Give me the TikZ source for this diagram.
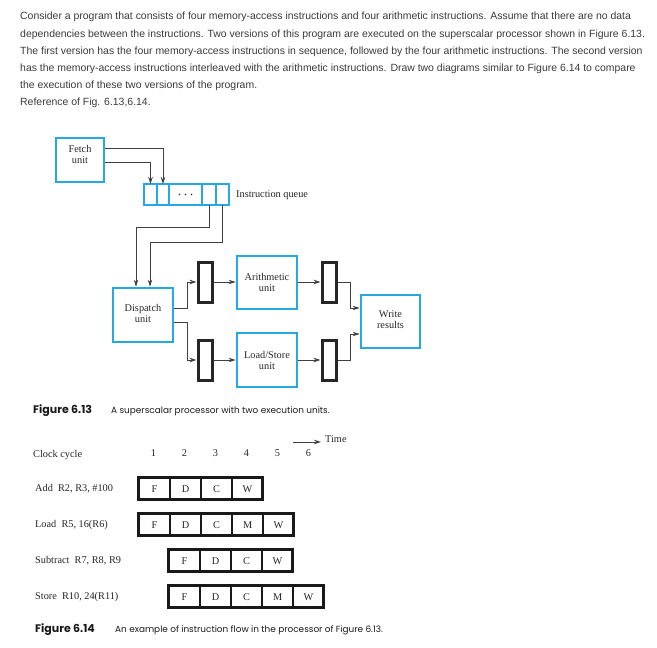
\documentclass[tikz,border=0pt]{standalone}
\usepackage{fontspec}
\setmainfont{Liberation Serif}
\newfontfamily\parafont{Liberation Sans}
\newfontfamily\capfont{Poppins}
\usetikzlibrary{arrows.meta}
\definecolor{parac}{HTML}{3A3A3A}
\definecolor{boxblue}{HTML}{25A9E0}
\definecolor{linec}{HTML}{404040}
\tikzset{
  para/.style={anchor=west,inner sep=0pt,font=\parafont\fontsize{10.45}{11}\selectfont,text=parac},
  unitbox/.style={draw=boxblue,line width=2.8pt,inner sep=0pt,font=\fontsize{10.3}{11}\selectfont,align=center,text=black!85},
  regbox/.style={draw=black!85,line width=3pt,inner sep=0pt},
  conn/.style={draw=linec,line width=0.8pt},
  arr/.style={conn,-{Stealth[length=7pt,width=4.5pt]}},
  lbl/.style={anchor=west,inner sep=0pt,font=\fontsize{10.3}{11}\selectfont,text=black!85},
  cellbox/.style={draw=black!90,line width=2.2pt,minimum width=31pt,minimum height=22pt,inner sep=0pt,font=\fontsize{10.3}{10.3}\selectfont,anchor=north west,text=black!85},
  capb/.style={anchor=west,inner sep=0pt,font=\capfont\bfseries\fontsize{11}{11}\selectfont,text=black!90},
  capt/.style={anchor=west,inner sep=0pt,font=\capfont\fontsize{8.9}{8.9}\selectfont,text=black!90},
}
\begin{document}
\begin{tikzpicture}[x=1pt,y=-1pt]
\useasboundingbox (0,0) rectangle (657,648);
% paragraph
\node[para] (p1) at (20,17) {Consider a program that consists of four memory-access instructions and four arithmetic instructions. Assume that there are no data};
\node[para] (p2) at (20,35) {dependencies between the instructions. Two versions of this program are executed on the superscalar processor shown in Figure 6.13.};
\node[para] (p3) at (20,52) {The first version has the four memory-access instructions in sequence, followed by the four arithmetic instructions. The second version};
\node[para] (p4) at (20,69) {has the memory-access instructions interleaved with the arithmetic instructions. Draw two diagrams similar to Figure 6.14 to compare};
\node[para] (p5) at (20,86) {the execution of these two versions of the program.};
\node[para] (p6) at (20,103) {Reference of Fig. 6.13,6.14.};

% Figure 6.13
\node[unitbox,minimum width=48pt,minimum height=44pt] (fetch) at (80,160) {};
\node[align=center,inner sep=0pt,font=\fontsize{10.3}{11}\selectfont,text=black!85] (fetchtxt) at (80,154.5) {Fetch\\unit};
% instruction queue
\node[draw=boxblue,line width=2.4pt,minimum width=85pt,minimum height=21pt,inner sep=0pt] (queue) at (186.5,194.5) {};
\foreach \xx in {157,169,202,216} \draw[boxblue,line width=1.2pt] (\xx,184) -- (\xx,205);
\foreach \xx in {179.5,185.5,191.5} \fill[black!80] (\xx,194.5) circle (0.9pt);
\node[lbl] (qlabel) at (236,195) {Instruction queue};
\coordinate (q1) at (150.5,184);
\coordinate (q2) at (163,184);
\coordinate (q3) at (209,205);
\coordinate (q4) at (222,205);
\draw[arr] (fetch.east |- 0,148) -| (q2);
\draw[arr] (fetch.east |- 0,162) -| (q1);

\node[unitbox,minimum width=60pt,minimum height=54pt] (disp) at (143,315) {};
\node[align=center,inner sep=0pt,font=\fontsize{10.3}{11}\selectfont,text=black!85] (disptxt) at (143,313) {Dispatch\\unit};
\draw[arr] (q3) -- (209,227) -| (disp.north -| 136,0);
\draw[arr] (q4) -- (222,242) -| (disp.north -| 150,0);

\node[regbox,minimum width=14pt,minimum height=40pt] (r1) at (205,282) {};
\node[regbox,minimum width=14pt,minimum height=40pt] (r2) at (205,360) {};
\node[unitbox,minimum width=60pt,minimum height=53pt] (arith) at (267,282.5) {Arithmetic\\unit};
\node[unitbox,minimum width=60pt,minimum height=54pt] (ls) at (267,360) {Load/Store\\unit};
\node[regbox,minimum width=14pt,minimum height=40pt] (r3) at (329,282) {};
\node[regbox,minimum width=14pt,minimum height=40pt] (r4) at (329,360) {};
\node[unitbox,minimum width=59pt,minimum height=53pt] (write) at (390.5,321.5) {};
\node[align=center,inner sep=0pt,font=\fontsize{10.3}{11}\selectfont,text=black!85] (writetxt) at (390.5,319.5) {Write\\results};

\draw[arr] (disp.east |- 0,308) -- (187,308) |- (r1.west);
\draw[arr] (disp.east |- 0,322) -- (187,322) |- (r2.west);
\draw[arr] (r1.east) -- (arith.west |- r1.east);
\draw[arr] (r2.east) -- (ls.west |- r2.east);
\draw[arr] (arith.east |- r3.west) -- (r3.west);
\draw[arr] (ls.east |- r4.west) -- (r4.west);
\draw[arr] (r3.east) -- (350,282) |- (write.west |- 0,308);
\draw[arr] (r4.east) -- (350,360) |- (write.west |- 0,334);

\node[capb] (f13) at (33,411) {Figure 6.13};
\node[capt] (c13) at (111,411) {A superscalar processor with two execution units.};

% Figure 6.14
\node[lbl] (clk) at (33,455) {Clock cycle};
\foreach \n/\xx in {1/153.5,2/184.5,3/215.5,4/246.5,5/277.5,6/308.5}
  \node[inner sep=0pt,font=\fontsize{10.3}{10.3}\selectfont,text=black!85] (n\n) at (\xx,453) {\n};
\coordinate (ta) at (293,442);
\node[lbl] (time) at (325,439) {Time};
\draw[arr] (ta) -- ([xshift=-4pt]time.west |- ta);

\node[lbl] (i1) at (35,489) {Add\ \ R2, R3, \#100};
\node[lbl] (i2) at (35,525) {Load\ \ R5, 16(R6)};
\node[lbl] (i3) at (35,561) {Subtract\ \ R7, R8, R9};
\node[lbl] (i4) at (35,597) {Store\ \ R10, 24(R11)};

\foreach \row/\x/\y/\cells in {a/138/477/{F,D,C,W},b/138/513/{F,D,C,M,W},c/168/549/{F,D,C,W},d/168/585/{F,D,C,M,W}}{
  \foreach \c [count=\k from 0] in \cells {
    \node[cellbox] (\row\k) at (\x+31*\k,\y) {\c};
  }
}
\draw[black!90,line width=3pt] (138,477) rectangle (262,499);
\draw[black!90,line width=3pt] (138,513) rectangle (293,535);
\draw[black!90,line width=3pt] (168,549) rectangle (292,571);
\draw[black!90,line width=3pt] (168,585) rectangle (323,607);

\node[capb] (f14) at (35,630) {Figure 6.14};
\node[capt] (c14) at (115,630) {An example of instruction flow in the processor of Figure 6.13.};
\end{tikzpicture}
\end{document}
